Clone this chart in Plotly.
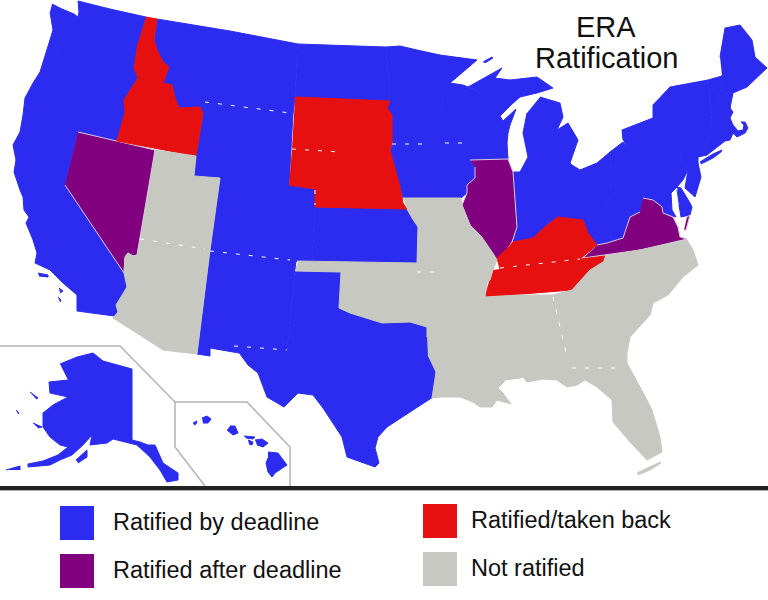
import plotly.graph_objects as go

# no topojson without network, so outlines are read off the picture (x, y in picture pixels)
WA = [(52,4),(62,9),(74,14),(78,17),(79,12),(78,1),(110,9),(146,17),(138,43),(134,68),(123,68),(60,58),(55,45),(49,43),(53,30),(50,12)]
OR = [(55,45),(49,43),(40,72),(33,83),(25,98),(23,115),(20,132),(78,132),(117,141),(125,112),(124,100),(138,78),(134,68),(123,68),(60,58)]
CA = [(20,132),(13,145),(16,160),(14,172),(20,190),(23,197),(24,210),(29,217),(26,223),(33,240),(37,253),(35,263),(50,270),(63,283),(77,295),(77,311),(114,316),(118,312),(116,305),(127,287),(124,273),(65,185),(78,132),
      None,(38,273),(48,275),(48,277),(39,276),None,(59,288),(63,291),(60,293),None,(58,297),(61,300),(60,302)]
NV = [(78,132),(117,141),(155,150),(137,255),(133,256),(128,253),(125,257),(124,273),(65,185)]
ID = [(146,17),(157,19),(154,40),(157,50),(163,62),(169,67),(163,83),(172,85),(175,98),(179,108),(200,107),(203,113),(196,156),(117,141),(125,112),(124,100),(138,78),(134,68),(138,43)]
UT = [(155,150),(196,156),(194,176),(220,178),(210,250),(140,239)]
AZ = [(140,239),(210,250),(197,354),(163,350),(132,330),(113,318),(118,312),(116,305),(127,287),(124,273),(125,257),(128,253),(133,256),(137,255)]
MT = [(157,19),(230,31),(298,44),(295,97),(293,114),(203,102),(203,113),(200,107),(179,108),(175,98),(172,85),(163,83),(169,67),(163,62),(157,50),(154,40)]
WY = [(203,113),(203,102),(293,114),(289,185),(220,178),(194,176),(196,156)]
CO = [(220,178),(289,185),(315,189),(315,207),(312,262),(297,261),(210,250)]
NM = [(210,250),(297,261),(295,271),(287,350),(235,347),(239,353),(210,348),(210,356),(197,354)]
ND = [(298,44),(386,47),(390,101),(295,97)]
SD = [(295,97),(390,101),(387,108),(392,115),(392,143),(390,150),(392,157),(372,158),(363,153),(340,153),(292,149)]
NE = [(292,149),(340,153),(363,153),(372,158),(392,157),(400,187),(403,203),(407,209),(315,207),(315,189),(289,185)]
KS = [(315,207),(407,209),(412,218),(418,227),(417,263),(312,262)]
OK = [(297,261),(417,263),(418,272),(421,293),(427,327),(410,322),(382,323),(367,318),(350,313),(339,308),(341,272),(295,271)]
TX = [(295,271),(341,272),(339,308),(350,313),(367,318),(382,323),(410,322),(427,327),(428,355),(436,372),(433,397),(410,412),(387,427),(378,437),(375,448),(379,463),(375,467),(347,457),(342,437),(323,408),(313,395),(298,393),(284,407),(267,397),(262,383),(258,373),(248,365),(239,353),(235,347),(287,350)]
MN = [(386,47),(400,46),(417,50),(440,55),(477,60),(450,83),(445,90),(440,110),(440,120),(457,135),(462,144),(392,144),(392,115),(387,108),(390,101)]
IA = [(392,144),(462,144),(465,150),(470,160),(475,167),(475,178),(467,185),(467,193),(461,198),(403,198),(400,187),(392,162),(390,150)]
MO = [(403,198),(461,198),(462,205),(470,225),(481,236),(492,252),(497,260),(493,270),(490,280),(487,283),(480,272),(418,272),(417,263),(418,227),(412,218),(407,209)]
AR = [(418,272),(480,272),(487,283),(485,297),(478,315),(472,337),(427,337),(427,327),(421,293)]
LA = [(427,337),(472,337),(468,355),(465,372),(495,372),(498,380),(503,383),(498,388),(503,393),(511,404),(497,400),(492,407),(480,407),(473,402),(460,397),(440,397),(432,398),(436,372),(428,355)]
WI = [(445,90),(450,83),(463,85),(468,87),(480,93),(495,100),(500,116),(503,121),(516,109),(510,125),(508,133),(507,143),(508,159),(470,160),(465,150),(462,144),(457,135),(440,120),(440,110)]
IL = [(470,160),(508,159),(513,172),(517,227),(512,242),(508,248),(498,258),(497,260),(492,252),(481,236),(470,225),(462,205),(467,193),(467,185),(475,178),(475,167)]
MI = [(540,97),(560,103),(563,117),(557,130),(568,123),(578,140),(570,163),(572,165),(557,168),(520,172),(528,157),(523,133),(527,113),
      None,(468,87),(490,75),(502,68),(495,78),(510,80),(537,77),(553,88),(537,93),(520,97),(511,105),(500,116),(495,100),(480,93),
      None,(483,62),(492,57),(493,58),(485,63)]
IN = [(513,172),(520,172),(557,168),(557,217),(547,225),(533,238),(513,242),(517,227)]
OH = [(557,168),(572,165),(580,170),(597,163),(610,152),(612,190),(607,205),(597,225),(588,233),(583,220),(557,217)]
KY = [(557,217),(583,220),(588,233),(597,245),(580,259),(500,269),(497,258),(508,248),(513,242),(533,238),(547,225)]
TN = [(500,269),(580,259),(605,256),(603,262),(590,270),(572,290),(485,297),(487,290),(493,270)]
MS = [(478,315),(485,297),(519,295),(522,360),(520,378),(505,380),(503,383),(498,380),(495,372),(465,372),(468,355),(472,337)]
AL = [(519,295),(553,295),(567,357),(570,368),(535,372),(535,376),(527,382),(523,377),(520,378),(522,360)]
GA = [(553,295),(572,290),(590,288),(605,300),(630,337),(627,353),(627,363),(617,368),(570,368),(567,357)]
FL = [(535,372),(570,368),(617,368),(627,363),(647,400),(652,410),(660,437),(662,452),(647,460),(630,442),(613,422),(612,400),(597,387),(585,380),(577,385),(567,387),(557,380),(543,379),(527,382),(535,376),
      None,(637,473),(648,468),(660,462),(661,463),(650,470),(638,475)]
SC = [(590,288),(607,282),(625,283),(653,303),(650,315),(630,337),(605,300)]
NC = [(605,256),(640,250),(687,240),(693,250),(698,265),(683,277),(668,295),(653,303),(625,283),(607,282),(590,288),(572,290),(590,270),(603,262)]
VA = [(643,198),(653,200),(662,207),(663,213),(673,217),(678,227),(680,237),(687,239),(640,250),(583,258),(597,245),(607,243),(623,238),(630,217),(640,212),
      None,(687,217),(690,215),(686,230),(684,230)]
WV = [(612,190),(612,200),(630,203),(643,198),(640,212),(630,217),(623,238),(607,243),(597,245),(588,233),(597,225),(607,205)]
MD = [(612,193),(677,187),(671,193),(672,210),(676,217),(663,213),(662,207),(643,198),(630,203),(612,200),
      None,(677,190),(680,209),(692,207),(690,215),(681,217),(679,205)]
DE = [(677,187),(681,188),(690,203),(692,207),(680,209)]
PA = [(610,152),(623,142),(626,147),(678,140),(682,147),(680,160),(688,170),(683,180),(677,187),(612,193)]
NJ = [(682,147),(698,157),(698,163),(701,177),(695,197),(685,188),(688,170),(680,160)]
NY = [(623,140),(622,130),(653,118),(653,105),(670,87),(708,80),(712,120),(710,134),(703,153),(707,155),(698,157),(682,147),(678,140),(626,147),
      None,(700,162),(713,154),(722,150),(721,152),(713,158),(701,164)]
CT = [(710,134),(725,130),(725,141),(707,155),(703,153)]
RI = [(725,130),(733,133),(730,140),(725,141)]
MA = [(712,120),(718,118),(733,112),(730,118),(733,125),(738,131),(743,130),(744,125),(741,122),(745,122),(748,128),(745,133),(737,137),(733,133),(725,130),(710,134)]
VT = [(708,80),(722,76),(719,100),(718,118),(712,120)]
NH = [(722,76),(722,75),(727,80),(730,108),(733,112),(718,118),(719,100)]
ME = [(720,57),(725,28),(740,25),(752,40),(755,57),(767,68),(747,87),(733,93),(730,108),(727,80),(722,75)]
AK = [(60,364),(77,357),(93,353),(103,361),(132,369),(132,440),(140,442),(148,445),(155,445),(163,463),(178,473),(178,480),(167,482),(160,470),(150,457),(137,445),(113,439),(107,443),(90,445),(92,435),(83,445),(72,455),(60,460),(50,465),(28,467),(28,464),(43,461),(58,455),(68,447),(60,445),(50,437),(43,427),(43,413),(53,405),(68,397),(50,393),(49,382),(68,380),
      None,(76,460),(87,450),(87,457),(78,463),None,(6,470),(20,466),(20,470),None,(30,392),(38,398),(36,399),None,(33,423),(42,427),(38,428),None,(16,410),(19,413),(18,414)]
HI = [(268,452),(278,453),(287,465),(275,473),(272,477),(268,472),(266,463),(268,458),None,(255,440),(262,439),(268,443),(263,447),(257,445),None,(244,436),(255,437),(253,439),(246,438),None,(248,440),(253,442),(252,445),(249,444),
      None,(230,426),(235,426),(238,433),(233,435),(227,430),None,(202,418),(207,416),(211,419),(208,423),(203,423),None,(193,423),(197,421),(196,424),(194,425)]

ratified_by_deadline = [WA, OR, CA, MT, WY, CO, NM, ND, KS, TX, MN, IA, WI, MI, IN, OH, WV, MD, DE, PA, NJ, NY, CT, RI, MA, VT, NH, ME, AK, HI]
ratified_after_deadline = [NV, IL, VA]
ratified_taken_back = [ID, SD, NE, KY, TN]
not_ratified = [UT, AZ, OK, MO, AR, LA, MS, AL, GA, FL, SC, NC]

legend_labels = ["Ratified by deadline", "Ratified after deadline", "Ratified/taken back", "Not ratified"]
legend_colors = ["#2c2cf0", "#800080", "#e61010", "#c8c8c3"]
legend_x = [77, 77, 440, 440]
legend_y = [523, 571, 521, 569]
legend_text_x = [111, 111, 469, 469]
groups = [ratified_by_deadline, ratified_after_deadline, ratified_taken_back, not_ratified]

# white flecks where the state borders show through
border_flecks = [(205,102),(290,113),None,(210,251),(290,260),None,(140,239),(205,249),None,(234,346),(287,350),None,
                 (292,149),(340,152),None,(392,144),(425,144),None,(445,143),(462,143),None,(417,272),(440,272),None,
                 (500,268),(580,259),None,(315,190),(315,205),None,(297,262),(295,275),None,(553,297),(567,357),None,(572,368),(617,368)]

alaska_frame = [(0,346),(120,346),(175,402),(175,447),(205,486)]
hawaii_frame = [(175,402),(247,402),(290,447),(290,486)]

def xy(points):
    return [p[0] if p else None for p in points], [p[1] if p else None for p in points]

fig = go.Figure()
for group, color in zip(groups, legend_colors):
    for state in group:
        x, y = xy(state)
        # purple states get the pale edge they have in the picture
        edge = "#d8c8d8" if color == "#800080" else color
        fig.add_trace(go.Scatter(x=x, y=y, mode="lines", fill="toself", fillcolor=color,
                                 line=dict(color=edge, width=1), hoverinfo="skip"))

x, y = xy(border_flecks)
fig.add_trace(go.Scatter(x=x, y=y, mode="lines", line=dict(color="white", width=1, dash="4px,9px"), hoverinfo="skip"))
for frame in [alaska_frame, hawaii_frame]:
    x, y = xy(frame)
    fig.add_trace(go.Scatter(x=x, y=y, mode="lines", line=dict(color="#b4b4b4", width=1.5), hoverinfo="skip"))

fig.add_trace(go.Scatter(x=legend_x, y=legend_y, mode="markers", hoverinfo="skip",
                         marker=dict(symbol="square", size=34, color=legend_colors)))
for tx, ly, label in zip(legend_text_x, legend_y, legend_labels):
    fig.add_annotation(x=tx, y=ly - 1, text=label, showarrow=False, xanchor="left", yanchor="middle",
                       font=dict(size=23.5, color="#111"))

fig.add_annotation(x=606, y=27, text="ERA", showarrow=False, font=dict(size=29, color="#111"))
fig.add_annotation(x=606, y=58, text="Ratification", showarrow=False, font=dict(size=29, color="#111"))

fig.add_shape(type="line", x0=0, x1=768, y0=490.5, y1=490.5, line=dict(color="#b0b0b0", width=1))
fig.add_shape(type="line", x0=0, x1=768, y0=488, y1=488, line=dict(color="#222", width=4))

fig.update_xaxes(range=[0, 768], visible=False, fixedrange=True)
fig.update_yaxes(range=[600, 0], visible=False, fixedrange=True)
fig.update_layout(width=768, height=600, margin=dict(l=0, r=0, t=0, b=0), showlegend=False,
                  paper_bgcolor="white", plot_bgcolor="white", font=dict(family="Liberation Sans"))
# the page's default body margin would push everything 8px off
fig.write_html("out.html", post_script="document.body.style.margin='0';", config={"displayModeBar": False})
